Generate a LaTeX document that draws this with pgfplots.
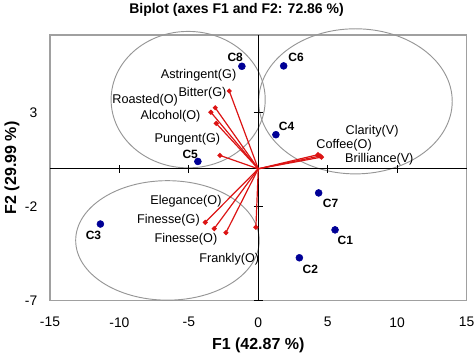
\documentclass[border=0pt]{standalone}
\usepackage{fontspec}
\setmainfont{Liberation Sans}
\usepackage{pgfplots}
\pgfplotsset{compat=1.18}
\definecolor{ptblue}{RGB}{0,0,150}
\definecolor{vecred}{RGB}{220,20,20}
\definecolor{ellgray}{RGB}{150,150,150}
\definecolor{boxgray}{RGB}{160,160,160}
\begin{document}
\begin{tikzpicture}
\begin{axis}[
  scale only axis, width=312.4pt, height=199.3pt,
  xmin=-15, xmax=15, ymin=-7, ymax=7.1,
  xtick={-15,-10,-5,0,5,10,15}, ytick={-7,-2,3},
  major tick length=0pt,
  axis line style={boxgray, line width=0.8pt},
  clip=false,
  /pgf/number format/assume math mode=true,
  tick label style={font=\fontsize{10.4}{12}\selectfont},
  xticklabel style={yshift=-9pt},
  yticklabel style={xshift=-6pt},
]
% ellipses
\draw[ellgray, line width=0.7pt] (axis cs:-5.05,3.67) ellipse [x radius=5.55, y radius=3.62];
\draw[ellgray, line width=0.7pt] (axis cs:7.0,3.58) ellipse [x radius=6.97, y radius=3.85];
\draw[ellgray, line width=0.7pt] (axis cs:-6.54,-3.80) ellipse [x radius=6.61, y radius=3.17];
% central axes
\draw[black, line width=0.9pt] (axis cs:-15,0) -- (axis cs:15,0);
\draw[black, line width=0.9pt] (axis cs:0,-7) -- (axis cs:0,7.1);
\pgfplotsinvokeforeach{-10,-5,5,10}{
  \draw[black, line width=0.8pt] ([yshift=-3pt]axis cs:#1,0) -- ([yshift=3pt]axis cs:#1,0);
}
\pgfplotsinvokeforeach{-7,-2,3}{
  \draw[black, line width=0.8pt] ([xshift=-3.5pt]axis cs:0,#1) -- ([xshift=3.5pt]axis cs:0,#1);
}
% vectors
\pgfplotsset{vec/.style={vecred, line width=0.9pt, mark=*, mark size=1.4pt, mark indices={2}, mark options={fill=vecred, draw=vecred}}}
\addplot[vec] coordinates {(0,0) (-2.09,4.13)};
\addplot[vec] coordinates {(0,0) (-3.10,3.24)};
\addplot[vec] coordinates {(0,0) (-3.41,3.00)};
\addplot[vec] coordinates {(0,0) (-3.03,2.41)};
\addplot[vec] coordinates {(0,0) (-2.76,0.71)};
\addplot[vec] coordinates {(0,0) (4.30,0.75)};
\addplot[vec] coordinates {(0,0) (4.45,0.68)};
\addplot[vec] coordinates {(0,0) (4.55,0.62)};
\addplot[vec] coordinates {(0,0) (-3.82,-2.84)};
\addplot[vec] coordinates {(0,0) (-3.17,-3.17)};
\addplot[vec] coordinates {(0,0) (-2.33,-3.39)};
\addplot[vec] coordinates {(0,0) (-0.17,-3.10)};
% observations
\addplot[only marks, mark=*, mark size=2.6pt, ptblue, mark options={fill=ptblue}] coordinates {
 (5.53,-3.24) (2.96,-4.72) (-11.37,-2.93) (1.27,1.81) (-4.35,0.39) (1.83,5.46) (4.35,-1.28) (-1.18,5.44)};
% labels
\begin{scope}[every node/.style={font=\fontsize{9.5}{11}\selectfont, inner sep=0pt}]
\node at (axis cs:-4.30,4.96) {Astringent(G)};
\node at (axis cs:-4.02,4.00) {Bitter(G)};
\node at (axis cs:-8.15,3.65) {Roasted(O)};
\node at (axis cs:-6.32,2.77) {Alcohol(O)};
\node at (axis cs:-5.10,1.58) {Pungent(G)};
\node at (axis cs:8.20,2.02) {Clarity(V)};
\node at (axis cs:6.18,1.24) {Coffee(O)};
\node at (axis cs:8.72,0.52) {Brilliance(V)};
\node at (axis cs:-5.21,-1.74) {Elegance(O)};
\node at (axis cs:-6.47,-2.71) {Finesse(G)};
\node at (axis cs:-5.21,-3.76) {Finesse(O)};
\node at (axis cs:-2.09,-4.80) {Frankly(O)};
\end{scope}
\begin{scope}[every node/.style={font=\fontsize{9}{11}\selectfont\bfseries, inner sep=0pt}]
\node at (axis cs:-1.66,5.89) {C8};
\node at (axis cs:2.72,5.89) {C6};
\node at (axis cs:2.04,2.23) {C4};
\node at (axis cs:-4.90,0.74) {C5};
\node at (axis cs:-11.87,-3.51) {C3};
\node at (axis cs:5.21,-1.85) {C7};
\node at (axis cs:6.27,-3.81) {C1};
\node at (axis cs:3.75,-5.32) {C2};
\end{scope}
\coordinate (BL) at (rel axis cs:0,0);
\coordinate (TR) at (rel axis cs:1,1);
\coordinate (TL) at (rel axis cs:0,1);
\coordinate (BC) at (rel axis cs:0.5,0);
\coordinate (LC) at (rel axis cs:0,0.5);
\end{axis}
\node[font=\fontsize{10.5}{12}\selectfont\bfseries, inner sep=0pt] at ([shift={(139.9pt,18.75pt)}]TL) {Biplot (axes F1 and F2: 72.86 \%)};
\node[font=\fontsize{12}{14}\selectfont\bfseries, inner sep=0pt] at ([yshift=-33.2pt]BC) {F1 (42.87 \%)};
\node[font=\fontsize{12}{14}\selectfont\bfseries, inner sep=0pt, rotate=90] at ([xshift=-28.5pt]LC) {F2 (29.99 \%)};
\pgfresetboundingbox
\path ([shift={(-37.5pt,-43pt)}]BL) rectangle ([shift={(5.6pt,26.25pt)}]TR);
\end{tikzpicture}
\end{document}
